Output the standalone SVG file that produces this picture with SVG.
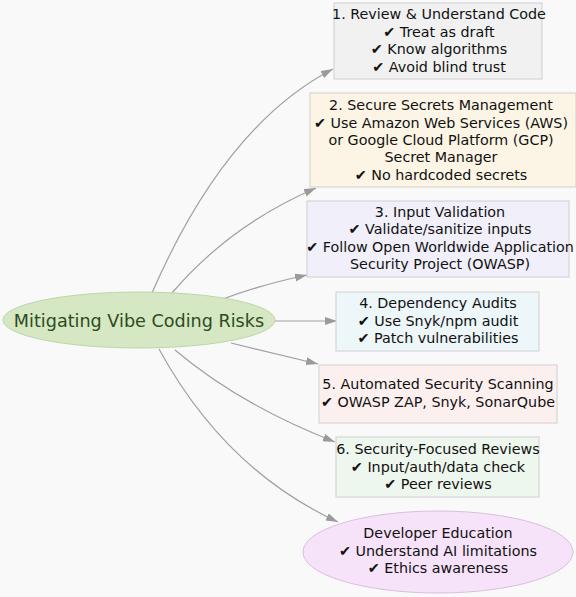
<svg xmlns="http://www.w3.org/2000/svg" width="576" height="597" viewBox="0 0 576 597">
<defs>
<marker id="ah" markerUnits="userSpaceOnUse" markerWidth="13" markerHeight="9" refX="12" refY="4" orient="auto"><path d="M0,0 L12,4 L0,8 z" fill="#9a9a9a"/></marker>
<style>
.t{font-family:"DejaVu Sans",Verdana,sans-serif;font-size:14.3px;fill:#111;text-anchor:middle}
.c{stroke:#a0a0a0;stroke-width:1.2;fill:none;marker-end:url(#ah)}
.b{stroke:#cfcfcf;stroke-width:1}
</style>
</defs>
<rect width="576" height="597" fill="#f9f9f9"/>
<g id="connectors">
<path class="c" d="M152,293 Q225,125 333,69"/>
<path class="c" d="M172,293 Q230,225 316,188"/>
<path class="c" d="M223,299 Q260,285 307,275"/>
<path class="c" d="M275,321 L337,321"/>
<path class="c" d="M231,343 L318,364"/>
<path class="c" d="M175,350 Q240,405 335,442"/>
<path class="c" d="M159,349 Q225,470 338,522"/>
</g>
<g id="root">
<ellipse cx="139" cy="320" rx="136" ry="28" fill="#d5e8c3" stroke="#bcd6a6"/>
<text x="139" y="327" class="t" style="font-size:17.6px;fill:#2e4a22">Mitigating Vibe Coding Risks</text>
</g>
<g id="n1">
<rect class="b" x="334" y="3" width="208" height="76" fill="#f1f1f1"/>
<text class="t" x="439" y="19">1. Review &amp; Understand Code</text>
<text class="t" x="439" y="37">✔ Treat as draft</text>
<text class="t" x="439" y="54">✔ Know algorithms</text>
<text class="t" x="439" y="72">✔ Avoid blind trust</text>
</g>
<g id="n2">
<rect class="b" x="310" y="93" width="266" height="94" fill="#fcf5e5"/>
<text class="t" x="441" y="110">2. Secure Secrets Management</text>
<text class="t" x="441" y="128">✔ Use Amazon Web Services (AWS)</text>
<text class="t" x="441" y="145">or Google Cloud Platform (GCP)</text>
<text class="t" x="441" y="162">Secret Manager</text>
<text class="t" x="441" y="180">✔ No hardcoded secrets</text>
</g>
<g id="n3">
<rect class="b" x="307" y="201" width="262" height="76" fill="#f0effa"/>
<text class="t" x="440" y="217">3. Input Validation</text>
<text class="t" x="440" y="234">✔ Validate/sanitize inputs</text>
<text class="t" x="440" y="252">✔ Follow Open Worldwide Application</text>
<text class="t" x="440" y="269">Security Project (OWASP)</text>
</g>
<g id="n4">
<rect class="b" x="336" y="292" width="203" height="59" fill="#edf6f8"/>
<text class="t" x="438" y="308">4. Dependency Audits</text>
<text class="t" x="438" y="326">✔ Use Snyk/npm audit</text>
<text class="t" x="438" y="343">✔ Patch vulnerabilities</text>
</g>
<g id="n5">
<rect class="b" x="319" y="365" width="238" height="58" fill="#fcf0ef"/>
<text class="t" x="438" y="389">5. Automated Security Scanning</text>
<text class="t" x="438" y="407">✔ OWASP ZAP, Snyk, SonarQube</text>
</g>
<g id="n6">
<rect class="b" x="336" y="437" width="203" height="60" fill="#eef7ee"/>
<text class="t" x="438" y="454">6. Security-Focused Reviews</text>
<text class="t" x="438" y="472">✔ Input/auth/data check</text>
<text class="t" x="438" y="489">✔ Peer reviews</text>
</g>
<g id="n7">
<ellipse cx="438" cy="552" rx="135" ry="41" fill="#f6e2f9" stroke="#d9bfdf"/>
<text class="t" x="438" y="538">Developer Education</text>
<text class="t" x="438" y="556">✔ Understand AI limitations</text>
<text class="t" x="438" y="573">✔ Ethics awareness</text>
</g>
</svg>
